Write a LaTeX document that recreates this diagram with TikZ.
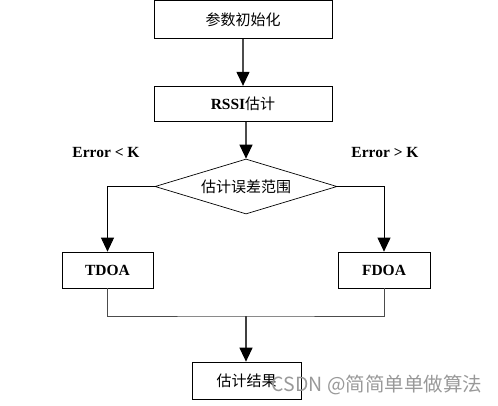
\documentclass[tikz,border=0pt]{standalone}
\usepackage{fontspec}
\setmainfont{Liberation Serif}
\newfontfamily\cjk{Noto Sans CJK SC}
\usepackage{tikz}
\usetikzlibrary{positioning, arrows.meta, shapes.geometric}

\tikzset{box/.style={draw, line width=0.7pt, minimum height=36pt, inner sep=0pt, font=\fontsize{15.5}{17}\selectfont},
         cond/.style={draw=none, font=\fontsize{15.5}{17}\selectfont\bfseries}}
\newcommand{\zh}[1]{{\cjk\fontsize{15}{17}\selectfont #1}}

\begin{document}
\begin{tikzpicture}[
    x=1pt, y=1pt,
    every path/.style={line width=0.8pt},
    >={Triangle[length=14pt, width=13pt, color=black]} % punta grande
]
\useasboundingbox (0,0) rectangle (498,-405);

% Nodos
\node[box, minimum width=178pt, minimum height=38pt] (init) at (243,-19.5) {\zh{参数初始化}};
\node[box, minimum width=178pt, minimum height=35pt, below=47pt of init] (rssi) {\textbf{RSSI}\zh{估计}};
\node[box, diamond, aspect=3.3, minimum width=182pt, minimum height=55pt] (range) at (246,-186.5) {\zh{估计误差范围}};
\node[box, minimum width=91pt] (tdoa) at (107.5,-270) {\textbf{TDOA}};
\node[box, minimum width=92pt] (fdoa) at (384,-270) {\textbf{FDOA}};
\node[box, minimum width=109pt, minimum height=37pt] (result) at (246.5,-380.5) {\zh{估计结果}};
\coordinate (merge) at (246,-316);

% Etiquetas
\node[cond] (less) at (106,-152) {Error < K};
\node[cond] (more) at (385,-152) {Error > K};

% Flechas
\draw[->, black!70, line width=1.2pt] (init) -- (rssi);
\draw[->, black!70, line width=1.2pt] (rssi.south -| range.north) -- (range.north);
\draw[->] (range.west) -| (tdoa.north);
\draw[->] (range.east) -| (fdoa.north);
\draw[black!70] (tdoa.south) |- (merge) -| (fdoa.south);
\draw[->, black!75, line width=1.2pt] (merge) -- (result.north -| merge);

% Marca de agua
\node[font=\cjk\fontsize{19.5}{21}\selectfont, text=black!40, inner sep=0pt] (mark) at (377,-385) {CSDN @简简单单做算法};

\end{tikzpicture}
\end{document}
